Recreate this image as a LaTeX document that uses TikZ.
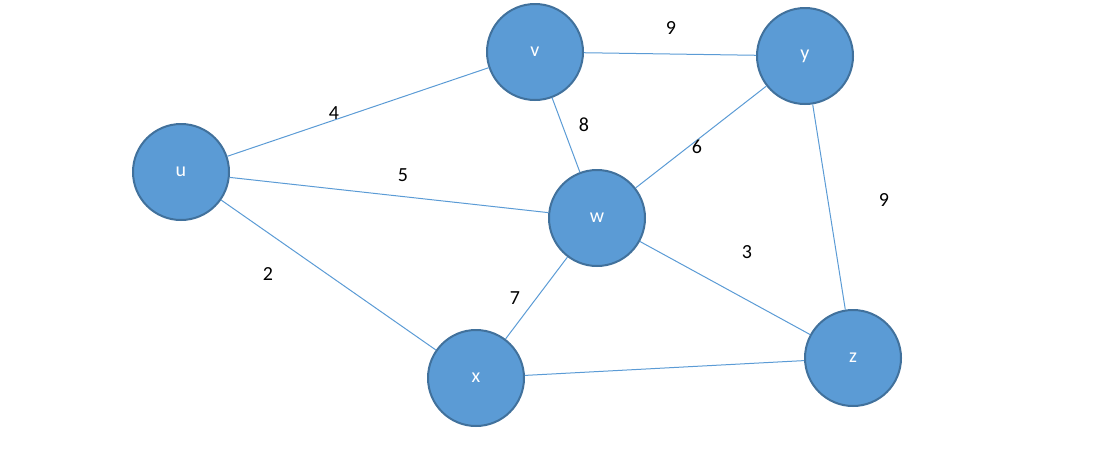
\documentclass[tikz,border=0pt]{standalone}
\usepackage{fontspec}
\setmainfont{Carlito}
\definecolor{nodefill}{RGB}{91,155,213}
\definecolor{nodeline}{RGB}{65,113,156}
\tikzset{every picture/.style={line width=0.75pt}}
\begin{document}
\begin{tikzpicture}[x=0.75pt,y=0.75pt,yscale=-1,xscale=1,
  vert/.style={circle,draw=nodeline,line width=1.5pt,fill=nodefill,minimum size=72,inner sep=0pt,text=white,font=\fontsize{15}{18}\selectfont},
  edge/.style={draw=nodefill,line width=0.75pt},
  wt/.style={inner sep=0.75pt,font=\fontsize{15}{18}\selectfont}]
\useasboundingbox (0,0) rectangle (1117,461);

% Vertices
\node [vert] (u) at (181,172) {u};
\node [vert] (v) at (535,52) {v};
\node [vert] (y) at (805,56) {y};
\node [vert] (w) at (597,218) {w};
\node [vert] (x) at (476,378) {x};
\node [vert] (z) at (853,358) {z};

% Edges
\draw [edge] (u) -- (v);
\draw [edge] (u) -- (w);
\draw [edge] (u) -- (x);
\draw [edge] (v) -- (y);
\draw [edge] (v) -- (w);
\draw [edge] (w) -- (y);
\draw [edge] (y) -- (z);
\draw [edge] (w) -- (z);
\draw [edge] (w) -- (x);
\draw [edge] (x) -- (z);

% Weights
\node [wt] (l1) at (334,113) {4};
\node [wt] (l2) at (403,175) {5};
\node [wt] (l3) at (268,274) {2};
\node [wt] (l4) at (671,28) {9};
\node [wt] (l5) at (584,125) {8};
\node [wt] (l6) at (697,147) {6};
\node [wt] (l7) at (884,200) {9};
\node [wt] (l8) at (747,252) {3};
\node [wt] (l9) at (515,298) {7};
\end{tikzpicture}
\end{document}
